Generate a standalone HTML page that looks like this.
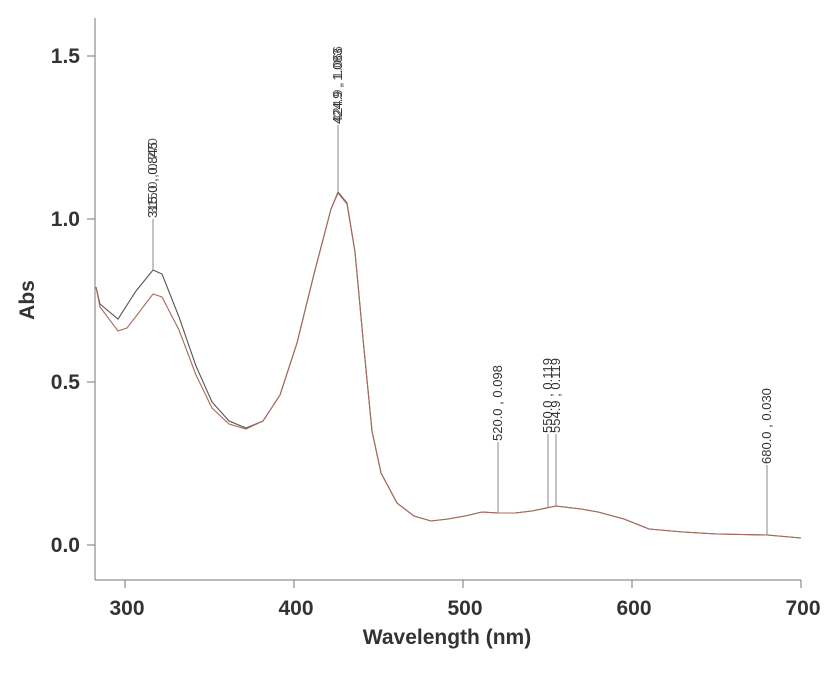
<!DOCTYPE html>
<html><head><meta charset="utf-8"><style>body{margin:0;background:#fff}</style></head><body>
<svg width="832" height="668" xmlns="http://www.w3.org/2000/svg" font-family="Liberation Sans, sans-serif">
<rect width="832" height="668" fill="#fff"/>
<g stroke="#777" stroke-width="1" fill="none">
<line x1="95" y1="18" x2="95" y2="580"/>
<line x1="95" y1="580" x2="801" y2="580"/>
<line x1="87" y1="56" x2="95" y2="56"/><line x1="87" y1="219" x2="95" y2="219"/>
<line x1="87" y1="382" x2="95" y2="382"/><line x1="87" y1="545" x2="95" y2="545"/>
<line x1="125" y1="580" x2="125" y2="588"/><line x1="294" y1="580" x2="294" y2="588"/>
<line x1="463" y1="580" x2="463" y2="588"/><line x1="632" y1="580" x2="632" y2="588"/>
<line x1="801" y1="580" x2="801" y2="588"/>
</g>
<g font-size="21" font-weight="bold" fill="#333">
<text x="80" y="63" text-anchor="end">1.5</text>
<text x="80" y="226" text-anchor="end">1.0</text>
<text x="80" y="389" text-anchor="end">0.5</text>
<text x="80" y="552" text-anchor="end">0.0</text>
<text x="127" y="615" text-anchor="middle">300</text>
<text x="296" y="615" text-anchor="middle">400</text>
<text x="465" y="615" text-anchor="middle">500</text>
<text x="634" y="615" text-anchor="middle">600</text>
<text x="803" y="615" text-anchor="middle">700</text>
<text x="447" y="644" text-anchor="middle">Wavelength (nm)</text>
<text transform="translate(34,300) rotate(-90)" text-anchor="middle">Abs</text>
</g>
<polyline fill="none" stroke="#555" stroke-width="1.1" points="96,287 100,304 118,319 136,291 153,270 162,274 179,317 196,366 212,402 229,421 246,428 263,421 280,395 297,343 314,274 331,209 338,192 347,203 355,252 364,349 372,431 381,473 397,503 414,516 431,521 448,519 465,516 482,512 498,513 515,513 532,511 556,506 581,509 598,512 624,519 649,529 683,532 717,534 767,535 801,538"/>
<polyline fill="none" stroke="#a86a5a" stroke-width="1.1" points="96,287 100,307 118,331 127,328 153,294 162,297 179,330 196,375 212,408 229,424 246,429 263,421 280,395 297,343 314,274 331,209 338,193 347,204 355,252 364,349 372,431 381,473 397,503 414,516 431,521 448,519 465,516 482,512 498,513 515,513 532,511 556,506 581,509 598,512 624,519 649,529 683,532 717,534 767,535 801,538"/>
<g stroke="#888" stroke-width="1">
<line x1="153" y1="219" x2="153" y2="270"/>
<line x1="338" y1="125" x2="338" y2="192"/>
<line x1="498" y1="442" x2="498" y2="513"/>
<line x1="548" y1="434" x2="548" y2="507"/>
<line x1="556" y1="434" x2="556" y2="506"/>
<line x1="767" y1="465" x2="767" y2="535"/>
</g>
<g font-size="13" fill="#333">
<text transform="translate(157,218) rotate(-90)">315.0 , 0.845</text>
<text transform="translate(157,218) rotate(-90)" fill-opacity="0.8" dx="4">315.0 , 0.770</text>
<text transform="translate(342,124) rotate(-90)">424.9 , 1.083</text>
<text transform="translate(342,124) rotate(-90)" fill-opacity="0.8" dx="2">424.9 , 1.066</text>
<text transform="translate(502,441) rotate(-90)">520.0 , 0.098</text>
<text transform="translate(552,433) rotate(-90)">550.0 , 0.119</text>
<text transform="translate(560,433) rotate(-90)">554.9 , 0.119</text>
<text transform="translate(771,464) rotate(-90)">680.0 , 0.030</text>
</g>
</svg>
</body></html>
